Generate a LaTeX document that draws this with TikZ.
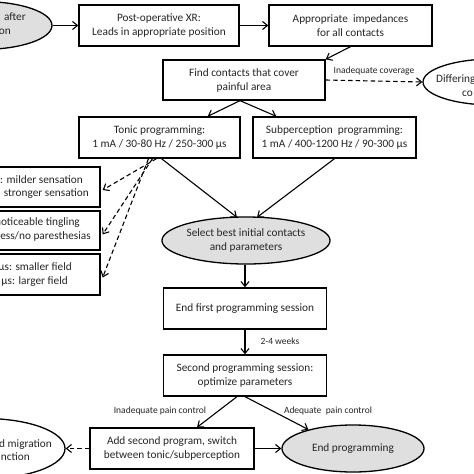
\documentclass[tikz,border=0pt]{standalone}
\usepackage{fontspec}
\setmainfont{Carlito}
\usetikzlibrary{arrows.meta,shapes.geometric,calc}
\begin{document}
\begin{tikzpicture}[x=1pt,y=-1pt,
  every node/.style={font=\fontsize{11.3}{14}\selectfont, text=black!85},
  box/.style={draw=black, line width=1.3pt, rectangle, align=center, minimum height=41pt, inner sep=2pt, fill=white},
  gell/.style={draw=black, ellipse, line width=1.3pt, fill=gray!25, align=center, inner sep=0pt},
  well/.style={draw=black, ellipse, line width=1.3pt, fill=white, align=center, inner sep=0pt},
  arr/.style={line width=1.1pt, -{Straight Barb[length=5pt,width=8pt]}},
  darr/.style={arr, dash pattern=on 4.5pt off 3pt},
  lab/.style={font=\fontsize{9.5}{11}\selectfont},
  fragE/.style={inner sep=0pt, anchor=mid east},
  fragW/.style={inner sep=0pt, anchor=mid west}]
\useasboundingbox (0,0) rectangle (474,474);
\clip (0,0) rectangle (474,474);
\fill[white] (0,0) rectangle (474,474);

% nodes
\node[gell, minimum width=140pt, minimum height=48pt] (start) at (-18,25.5) {};
\node[fragE] (startA) at (26,18) {after};
\node[fragE] (startB) at (11,32) {on};

\node[box, minimum width=160pt] (xr) at (159,25.5) {Post-operative XR:\\Leads in appropriate position};
\node[box, minimum width=163pt] (imp) at (350.5,25.5) {Appropriate\ \ impedances\\for all contacts};
\node[box, minimum width=162pt, minimum height=40pt] (find) at (244,80) {Find contacts that cover\\painful area};
\node[well, minimum width=140pt, minimum height=46pt] (diff) at (493,82) {};
\node[fragW] (diffA) at (436,80) {Differing};
\node[fragW] (diffB) at (462,94) {co};

\node[box, minimum width=161pt] (tonic) at (159.5,137.5) {Tonic programming:\\1 mA / 30-80 Hz / 250-300 µs};
\node[box, minimum width=163pt] (sub) at (334.5,137.5) {Subperception\ \ programming:\\1 mA / 400-1200 Hz / 90-300 µs};

\node[box, minimum width=163pt, minimum height=40pt] (b1) at (18.5,187) {};
\node[fragE] (b1A) at (83,181) {: milder sensation};
\node[fragE] (b1B) at (89,194.5) {stronger sensation};
\node[box, minimum width=163pt, minimum height=39pt] (b2) at (18.5,230.5) {};
\node[fragE] (b2A) at (80,223.5) {noticeable tingling};
\node[fragE] (b2B) at (91,237) {ess/no paresthesias};
\node[box, minimum width=163pt, minimum height=41pt] (b3) at (18.5,274.5) {};
\node[fragE] (b3A) at (72,268) {µs: smaller field};
\node[fragE] (b3B) at (68,282) {µs: larger field};

\node[gell, minimum width=138pt, minimum height=47pt] (sel) at (246,240.5) {Select best initial contacts\\and parameters};
\node[box, minimum width=163pt] (end1) at (245,308.5) {End first programming session};
\node[box, minimum width=163pt] (sec) at (245,375.5) {Second programming session:\\optimize parameters};
\node[box, minimum width=164pt] (add) at (172,448.5) {Add second program, switch\\between tonic/subperception};
\node[gell, minimum width=142pt, minimum height=47pt] (endp) at (353,448.5) {End programming};
\node[well, minimum width=160pt, minimum height=60pt] (mig) at (-15,448.5) {};
\node[fragE] (migA) at (52,445) {d migration};
\node[fragE] (migB) at (30,458) {nction};

% connectors
\draw[arr] (start.east) -- (xr.west);
\draw[arr] (xr.east) -- (imp.west);
\draw[arr] (imp.south) -- (find.north east);
\draw[darr] (find.east) -- node[lab, above=2pt] {Inadequate coverage} (diff.west);
\draw[arr] ($(find.south)+(-4,0)$) -- ($(tonic.north east)+(-33,0)$);
\draw[arr] ($(find.south)+(-4,0)$) -- ($(sub.north west)+(24,0)$);
\draw[darr] ($(tonic.south)+(-3,0)$) -- ($(b1.east)+(2,3)$);
\draw[darr] ($(tonic.south)+(-7,0)$) -- ($(b2.east)+(2,4)$);
\draw[darr] ($(tonic.south)+(-11,0)$) -- ($(b3.east)+(2,3)$);
\draw[arr] ($(tonic.south)+(2,0)$) -- ($(sel.north)+(-9,1)$);
\draw[arr] (sub.south) -- ($(sel.north)+(11,1)$);
\draw[arr] (end1.north |- sel.south) -- (end1.north);
\draw[arr] (end1.south) -- (sec.north);
\node[lab, anchor=mid west] (wk) at (257,342) {2-4 weeks};
\draw[arr] ($(sec.south)+(-8,0)$) -- ($(add.north)+(25,0)$);
\draw[arr] (sec.south) -- (endp.157);
\node[lab] (inad) at (160,411) {Inadequate pain control};
\node[lab] (adeq) at (328,411) {Adequate\ \ pain control};
\draw[darr] (add.west) -- (mig.east);
\draw[arr] (add.east) -- (endp.west);
\end{tikzpicture}
\end{document}
